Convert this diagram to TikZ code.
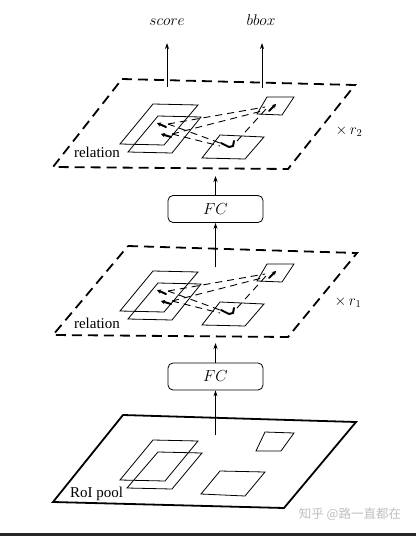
\RequirePackage{fix-cm}
\documentclass[tikz,border=0pt]{standalone}
\usepackage{fontspec}
\setmainfont{Liberation Serif}
\newfontfamily\cjk{Noto Sans CJK SC}
\usetikzlibrary{arrows.meta,calc}
\tikzset{
  layerdash/.style={line width=1.8pt, dash pattern=on 10pt off 6pt, line join=miter},
  layersolid/.style={line width=1.8pt, line join=miter},
  roibox/.style={line width=0.8pt},
  reldash/.style={line width=0.9pt, dash pattern=on 7pt off 5pt},
  objarrow/.style={line width=2pt, line cap=round, -{Stealth[length=4pt,width=4.5pt]}},
  arr/.style={line width=0.8pt, -{Stealth[length=6pt,width=4pt]}},
  fcbox/.style={draw, rounded corners=5pt, minimum width=95pt, minimum height=27pt,
    line width=0.8pt, inner sep=0pt, font=\fontsize{16}{18}\selectfont},
  outlbl/.style={inner sep=0pt, font=\fontsize{15.5}{18}\selectfont},
  layerlbl/.style={inner sep=0pt, font=\fontsize{15}{17}\selectfont},
  replbl/.style={inner sep=0pt, font=\fontsize{15}{17}\selectfont},
  wmark/.style={inner sep=0pt, text=black!25, font=\cjk\fontsize{12.5}{14}\selectfont}
}
\newcommand\relstuff[1]{%
  % boxes
  \draw[roibox] (153,104) -- (198,105) -- (164,145) -- (120,144) -- cycle;
  \draw[roibox] (158,116) -- (201,117) -- (172,153) -- (128,152) -- cycle;
  \draw[roibox] (267,97) -- (294,97) -- (282,115) -- (257,114) -- cycle;
  \draw[roibox] (220,135) -- (264,137) -- (245,159) -- (202,158) -- cycle;
  % relation end points
  \coordinate (a#1) at (168,124);
  \coordinate (b#1) at (172,134);
  \coordinate (ca#1) at (265,107);
  \coordinate (cb#1) at (262,111);
  \coordinate (cd#1) at (266,109);
  \coordinate (da#1) at (220,143);
  \coordinate (db#1) at (220,146);
  \coordinate (dc#1) at (237,141);
  \draw[reldash] (a#1) -- (ca#1);
  \draw[reldash] (b#1) -- (cb#1);
  \draw[reldash] (a#1) -- (da#1);
  \draw[reldash] (b#1) -- (db#1);
  \draw[reldash] (dc#1) -- (cd#1);
  % objects
  \draw[objarrow] (166,127) -- (157,123);
  \draw[objarrow] (171,137) -- (161,134);
  \draw[objarrow] (269,111) -- (276,104);
  \draw[line width=2pt, line cap=round, line join=round] (221,143) -- (229,147) -- (233,146);
  \draw[line width=2pt, line cap=round] (233,146) -- (234,141);
}
\begin{document}
\begin{tikzpicture}[x=1pt,y=-1pt]
\useasboundingbox (0,0) rectangle (416,536);
\fill[white] (0,0) rectangle (416,536);

% ---------- top relation layer ----------
\draw[layerdash] (122,79) -- (355,85) -- (288,169) -- (53,167) -- cycle;
\relstuff{t}
\node[layerlbl] (relt) at (97,152) {relation};
\node[replbl] (r2) at (349,131) {$\times\, r_2$};

% ---------- middle relation layer ----------
\draw[layerdash] (128,246) -- (357,253) -- (288,337) -- (53,335) -- cycle;
\begin{scope}[yshift=-167pt]
\relstuff{m}
\end{scope}
\node[layerlbl] (relm) at (97,323) {relation};
\node[replbl] (r1) at (348,302) {$\times\, r_1$};

% ---------- bottom RoI layer ----------
\draw[layersolid] (123,415) -- (356,422) -- (284,508) -- (53,502) -- cycle;
\draw[roibox] (153,440) -- (198,441) -- (165,481) -- (120,480) -- cycle;
\draw[roibox] (158,452) -- (202,453) -- (172,489) -- (127,488) -- cycle;
\draw[roibox] (265,432) -- (294,433) -- (281,451) -- (256,451) -- cycle;
\draw[roibox] (220,471) -- (265,472) -- (245,496) -- (201,494) -- cycle;
\node[layerlbl] (roi) at (96.5,494) {RoI pool};

% ---------- FC boxes ----------
\node[fcbox] (fc1) at (215.5,376.5) {$FC$};
\node[fcbox] (fc2) at (215.5,209) {$FC$};

% ---------- outputs ----------
\node[outlbl, anchor=base] (score) at (167,25) {$score$};
\node[outlbl, anchor=base] (bbox) at (261,25) {$bbox$};

% ---------- connectors ----------
\coordinate (roiup) at (215.5,435);
\coordinate (midin) at (215.5,343);
\coordinate (midup) at (215.5,267);
\coordinate (topin) at (215.5,176);
\coordinate (sbase) at (167,87);
\coordinate (bbase) at (262,88);
\draw[arr] (roiup) -- (fc1.south);
\draw[arr] (fc1.north) -- (midin);
\draw[arr] (midup) -- (fc2.south);
\draw[arr] (fc2.north) -- (topin);
\draw[arr, shorten >=18pt] (sbase) -- (score.base);
\draw[arr, shorten >=18pt] (bbase) -- (bbase |- bbox.base);

% ---------- watermark and bottom edge ----------
\node[wmark] (wm) at (350,514) {知乎 @路一直都在};
\fill[black!85] (0,533) rectangle (416,536);
\end{tikzpicture}
\end{document}
